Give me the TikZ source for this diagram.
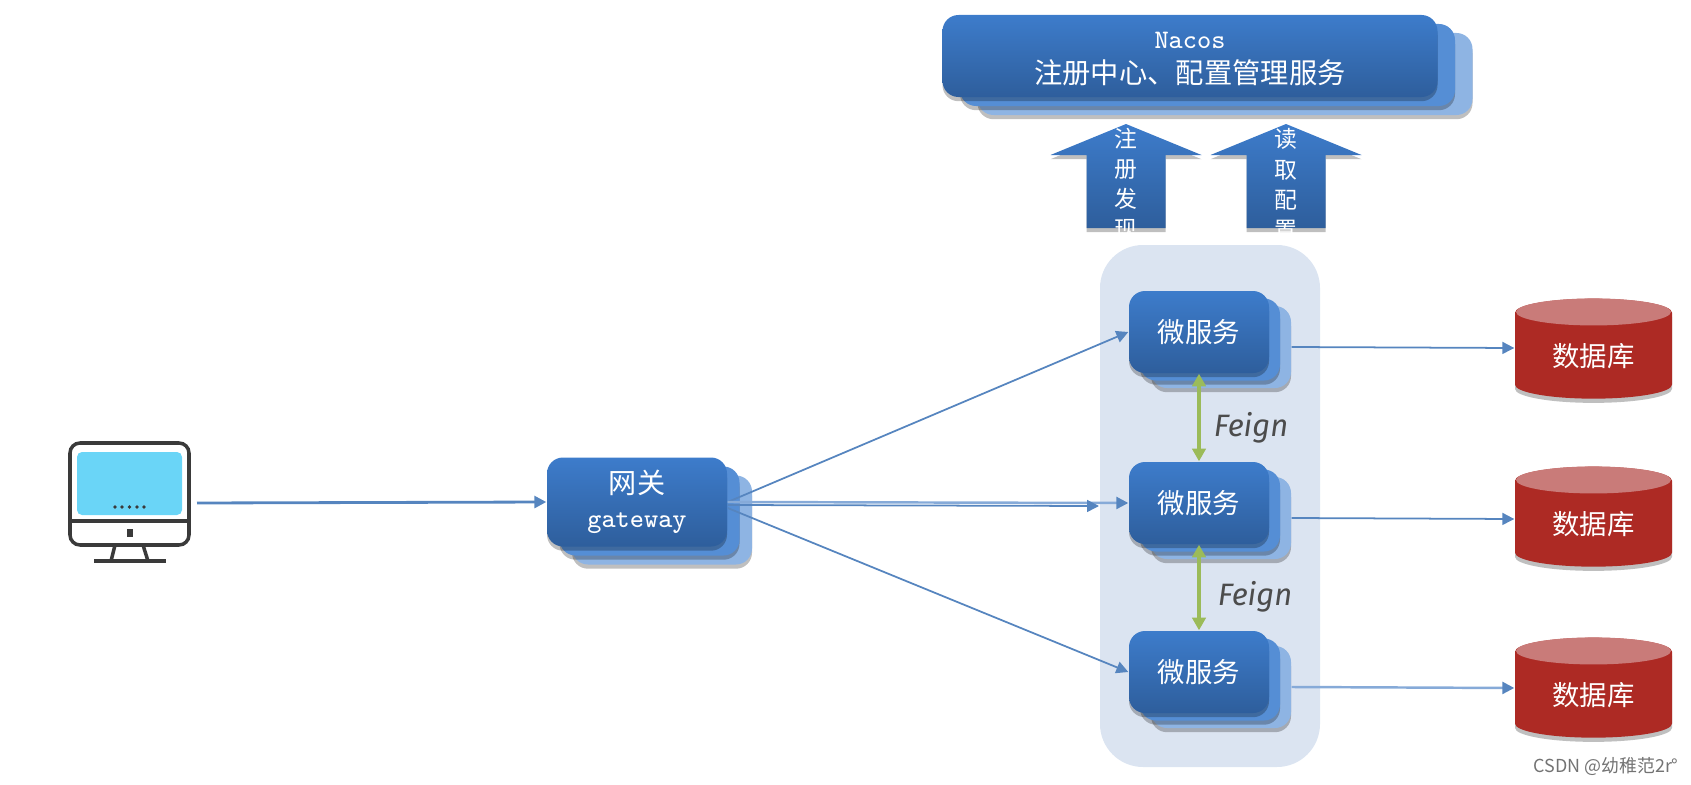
\documentclass[tikz,border=0pt]{standalone}
\usepackage{xcolor}
\usepackage{fontspec}
\setmainfont{Noto Sans CJK SC}
\newfontfamily\handfnt{Fira Sans Italic}
\usetikzlibrary{arrows.meta,shadows,shapes.geometric}

\definecolor{boxtop}{HTML}{3D7CCB}
\definecolor{boxbot}{HTML}{2E5E9C}
\definecolor{layermid}{HTML}{558ED5}
\definecolor{layerback}{HTML}{8EB4E3}
\definecolor{panelblue}{HTML}{DBE4F1}
\definecolor{linkblue}{HTML}{5685BF}
\definecolor{linklight}{HTML}{86AAD8}
\definecolor{feigngreen}{HTML}{9BBB59}
\definecolor{dbbody}{HTML}{AD2A24}
\definecolor{dbtop}{HTML}{C97B79}
\definecolor{screenblue}{HTML}{6AD5F7}
\definecolor{monitorgray}{HTML}{3A3A3A}

\tikzset{
  softshadow/.style={general shadow={shadow yshift=-1.2pt,fill=black,opacity=.25}},
  layered/.style 2 args={
    general shadow={shadow xshift=#1*2cm,shadow yshift=-#2*2cm-1.2pt,fill=black,opacity=.25},
    general shadow={shadow xshift=#1*2cm,shadow yshift=-#2*2cm,fill=layerback},
    general shadow={shadow xshift=#1*1cm,shadow yshift=-#2*1cm-1.2pt,fill=black,opacity=.25},
    general shadow={shadow xshift=#1*1cm,shadow yshift=-#2*1cm,fill=layermid},
    softshadow,
    rounded corners=.16cm,top color=boxtop,bottom color=boxbot,
    text=white,align=center,inner sep=0pt},
  nacosbox/.style={layered={.175}{.09},minimum width=4.95cm,minimum height=.82cm},
  nacostext/.style={text=white,align=center,inner sep=0pt},
  gatebox/.style={layered={.125}{.09},minimum width=1.80cm,minimum height=.89cm},
  svcbox/.style={layered={.11}{.075},minimum width=1.40cm,minimum height=.82cm,
    font=\fontsize{7.8}{10}\selectfont},
  uparrow/.style={softshadow,top color=boxtop,bottom color=boxbot},
  uplabel/.style={text=white,align=center,inner sep=0pt,
    font=\fontsize{6.5}{8.55}\selectfont},
  dbnode/.style={cylinder,shape border rotate=90,aspect=.34,inner sep=0pt,
    minimum width=1.57cm,minimum height=1cm,text=white,fill=dbbody,softshadow,
    font=\fontsize{7.8}{10}\selectfont},
  dblid/.style={ellipse,fill=dbtop,inner sep=0pt,minimum width=1.55cm,minimum height=.27cm},
  link/.style={draw=linkblue,line width=.5pt,
    -{Triangle[length=3.4pt,width=3.4pt,color=linkblue]}},
  feignlink/.style={draw=feigngreen,line width=1pt,
    {Triangle[length=3.6pt,width=3.8pt]}-{Triangle[length=3.6pt,width=3.8pt]}},
  feignlabel/.style={text=black!70,inner sep=0pt,font=\handfnt\fontsize{8.8}{10}\selectfont},
  monitorline/.style={draw=monitorgray,line width=1pt}
}

\begin{document}
\begin{tikzpicture}[y=-1cm]
    \useasboundingbox (0,0) rectangle (16.91,7.85);

    % panel behind the services
    \node[fill=panelblue,rounded corners=.43cm,minimum width=2.20cm,minimum height=5.22cm,inner sep=0pt] (panel) at (12.10,5.06) {};

    % registry
    \node[nacosbox] (nacos) at (11.90,.56) {};
    \node[nacostext] (nacoslabel) at (11.90,.59) {\fontsize{7.6}{9}\selectfont\ttfamily Nacos\\[-2.2pt]\fontsize{8.05}{9}\selectfont 注册中心、配置管理服务};
    \coordinate (regtip) at (11.26,1.24);
    \coordinate (cfgtip) at (12.86,1.24);
    \path[uparrow] (regtip) -- ++(.755,.31) -- ++(-.36,0) -- ++(0,.73) -- ++(-.79,0) -- ++(0,-.73) -- ++(-.36,0) -- cycle;
    \path[uparrow] (cfgtip) -- ++(.755,.31) -- ++(-.36,0) -- ++(0,.73) -- ++(-.79,0) -- ++(0,-.73) -- ++(-.36,0) -- cycle;
    \node[uplabel] (reglabel) at (11.26,1.84) {注\\册\\发\\现};
    \node[uplabel] (cfglabel) at (12.86,1.84) {读\\取\\配\\置};

    % services
    \node[svcbox] (svcA) at (11.99,3.32) {微服务};
    \node[svcbox] (svcB) at (11.99,5.03) {微服务};
    \node[svcbox] (svcC) at (11.99,6.72) {微服务};

    % gateway
    \node[gatebox] (gateway) at (6.37,5.02) {\fontsize{8}{10}\selectfont 网关\\[-2.2pt]\fontsize{7.6}{9}\selectfont\ttfamily gateway};

    % databases
    \node[dbnode] (dbA) at (15.935,3.56) {数据库};
    \node[dbnode] (dbB) at (15.935,5.24) {数据库};
    \node[dbnode] (dbC) at (15.935,6.95) {数据库};
    \node[dblid] (lidA) at ([yshift=-.14cm]dbA.north) {};
    \node[dblid] (lidB) at ([yshift=-.14cm]dbB.north) {};
    \node[dblid] (lidC) at ([yshift=-.14cm]dbC.north) {};

    % client screen
    \node[monitorline,rounded corners=.1cm,minimum width=1.19cm,minimum height=1.02cm,inner sep=0pt] (client) at (1.295,4.94) {};
    \node[fill=screenblue,rounded corners=.05cm,minimum width=1.05cm,minimum height=.63cm,inner sep=0pt] (screen) at (1.295,4.835) {};
    \draw[monitorline] (.70,5.21) -- (1.89,5.21);
    \fill[monitorgray] (1.265,5.29) rectangle (1.325,5.37);
    \fill[monitorgray] (1.15,5.07) circle (.018);
    \fill[monitorgray] (1.22,5.07) circle (.018);
    \fill[monitorgray] (1.295,5.07) circle (.018);
    \fill[monitorgray] (1.37,5.07) circle (.018);
    \fill[monitorgray] (1.44,5.07) circle (.018);
    \draw[monitorline] (1.15,5.45) -- (1.11,5.61);
    \draw[monitorline] (1.43,5.45) -- (1.48,5.61);
    \draw[monitorline] (.94,5.61) -- (1.66,5.61);

    % connectors
    \coordinate (clientout) at (1.97,5.03);
    \coordinate (midstop) at (10.99,5.06);
    \draw[link,line width=.8pt] (clientout) -- (gateway.west);
    \draw[link] (gateway.east) -- (svcA.west);
    \draw[link,draw=linklight,line width=.7pt] (gateway.east) -- (svcB.west);
    \draw[link] ([yshift=-.03cm]gateway.east) -- (midstop);
    \draw[link] ([yshift=-.06cm]gateway.east) -- (svcC.west);
    \draw[link] ([shift={(.22,.15)}]svcA.east) -- ([yshift=.08cm]dbA.west);
    \draw[link] ([shift={(.22,.15)}]svcB.east) -- ([yshift=.05cm]dbB.west);
    \draw[link,draw=linklight,line width=.7pt] ([shift={(.22,.15)}]svcC.east) -- ([yshift=.07cm]dbC.west);
    \draw[feignlink] (svcA.south) -- (svcB.north);
    \draw[feignlink] (svcB.south) -- (svcC.north);

    \node[feignlabel] (feignA) at (12.51,4.28) {Feign};
    \node[feignlabel] (feignB) at (12.55,5.97) {Feign};

    \node[text=black!55,inner sep=0pt,font=\fontsize{5.1}{6}\selectfont] (mark) at (16.06,7.67) {CSDN @幼稚范2r°};
\end{tikzpicture}
\end{document}
